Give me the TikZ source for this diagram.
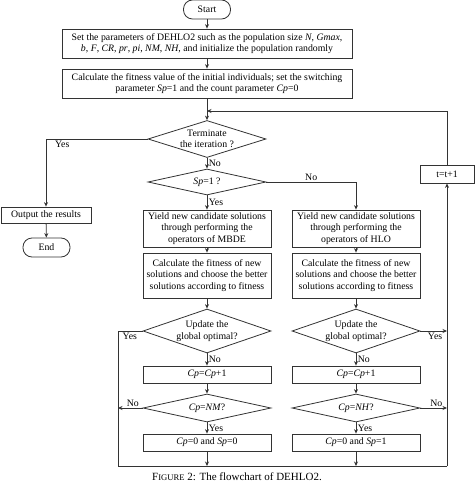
\documentclass[tikz,border=0pt]{standalone}
\usepackage{fontspec}
\setmainfont{Liberation Serif}
\usetikzlibrary{shapes.geometric, arrows.meta}

\begin{document}
\begin{tikzpicture}[
    x=1pt, y=-1pt,
    font=\fontsize{9.8}{11.6}\selectfont,
    box/.style={rectangle, draw=black!80, line width=0.8pt, inner sep=1pt, align=center},
    terminal/.style={rectangle, rounded corners=9pt, draw=black!80, line width=0.8pt, minimum width=47pt, minimum height=19pt, inner sep=1pt},
    decision/.style={diamond, draw=black!80, line width=0.8pt, inner sep=-4pt, aspect=3.3, align=center},
    arrow/.style={-{Stealth[length=4.5pt, width=4pt]}, draw=black!80, line width=0.8pt},
    link/.style={draw=black!80, line width=0.8pt},
    lbl/.style={inner sep=1.5pt}
]
    \useasboundingbox (0,0) rectangle (474,484);

    \node[terminal] (start) at (207,9.5) {Start};
    \node[box, minimum width=290pt, minimum height=29pt] (param) at (207,43.5)
        {Set the parameters of DEHLO2 such as the population size \textit{N}, \textit{Gmax},\\
         \textit{b}, \textit{F}, \textit{CR}, \textit{pr}, \textit{pi}, \textit{NM}, \textit{NH}, and initialize the population randomly};
    \node[box, minimum width=290pt, minimum height=29pt] (init) at (207,83.5)
        {Calculate the fitness value of the initial individuals; set the switching\\
         parameter \textit{Sp}=1 and the count parameter \textit{Cp}=0};
    \node[decision, minimum width=118pt, minimum height=37pt] (term) at (207,139) {Terminate\\the iteration ?};
    \node[decision, minimum width=118pt, minimum height=26pt] (sp) at (207,182) {\textit{Sp}=1 ?};

    % left branch: MBDE
    \node[box, minimum width=128pt, minimum height=37pt] (mbde) at (207,228.5)
        {Yield new candidate solutions\\through performing the\\operators of MBDE};
    \node[box, minimum width=128pt, minimum height=45pt] (fitm) at (207,275.5)
        {Calculate the fitness of new\\solutions and choose the better\\solutions according to fitness};
    \node[decision, minimum width=128pt, minimum height=44pt] (updm) at (207,331) {Update the\\global optimal?};
    \node[box, minimum width=128pt, minimum height=17pt] (cpm) at (207,374.5) {\textit{Cp}=\textit{Cp}+1};
    \node[decision, minimum width=128pt, minimum height=28pt] (nm) at (207,408) {\textit{Cp}=\textit{NM}?};
    \node[box, minimum width=128pt, minimum height=17pt] (rstm) at (207,442.5) {\textit{Cp}=0 and \textit{Sp}=0};

    % right branch: HLO
    \node[box, minimum width=128pt, minimum height=37pt] (hlo) at (356,228.5)
        {Yield new candidate solutions\\through performing the\\operators of HLO};
    \node[box, minimum width=128pt, minimum height=45pt] (fith) at (356,275.5)
        {Calculate the fitness of new\\solutions and choose the better\\solutions according to fitness};
    \node[decision, minimum width=128pt, minimum height=44pt] (updh) at (356,331) {Update the\\global optimal?};
    \node[box, minimum width=128pt, minimum height=17pt] (cph) at (356,374.5) {\textit{Cp}=\textit{Cp}+1};
    \node[decision, minimum width=128pt, minimum height=28pt] (nh) at (356,408) {\textit{Cp}=\textit{NH}?};
    \node[box, minimum width=128pt, minimum height=17pt] (rsth) at (356,442.5) {\textit{Cp}=0 and \textit{Sp}=1};

    \node[box, minimum width=54pt, minimum height=18pt] (tinc) at (447,174) {t=t+1};
    \node[box, minimum width=90pt, minimum height=16pt] (out) at (46,215) {Output the results};
    \node[terminal] (stop) at (46.5,247.5) {End};

    \node[font=\fontsize{11}{13}\selectfont] (caption) at (237,477) {F{\fontsize{8.6}{10}\selectfont IGURE} 2: The flowchart of DEHLO2.};

    \coordinate (join) at (207,111);
    \coordinate (bl) at (118,466);
    \coordinate (br) at (447,466);

    % main line
    \draw[arrow] (start) -- (param);
    \draw[arrow] (param) -- (init);
    \draw[arrow] (init) -- (term);
    \draw[arrow] (term) -- (sp) node[lbl, midway, right] {No};
    \draw[arrow] (term.west) -| (out.north) node[lbl, pos=0.42, below] {Yes};
    \draw[arrow] (out) -- (stop);
    \draw[arrow] (sp) -- (mbde) node[lbl, midway, right] {Yes};
    \draw[arrow] (sp.east) -| (hlo.north) node[lbl, pos=0.25, above] {No};

    \draw[arrow] (mbde) -- (fitm);
    \draw[arrow] (fitm) -- (updm);
    \draw[arrow] (updm) -- (cpm) node[lbl, midway, right] {No};
    \draw[arrow] (cpm) -- (nm);
    \draw[arrow] (nm) -- (rstm) node[lbl, midway, right] {Yes};
    \draw[arrow] (rstm) -- (rstm |- bl);

    \draw[arrow] (hlo) -- (fith);
    \draw[arrow] (fith) -- (updh);
    \draw[arrow] (updh) -- (cph) node[lbl, midway, right] {No};
    \draw[arrow] (cph) -- (nh);
    \draw[arrow] (nh) -- (rsth) node[lbl, midway, right] {Yes};
    \draw[arrow] (rsth) -- (rsth |- bl);

    % loop back
    \draw[link] (updm.west) -| (bl) node[lbl, pos=0.26, below] {Yes};
    \draw[arrow] (nm.west) -- (nm.west -| bl) node[lbl, pos=0.4, above] {No};
    \draw[link] (bl) -- (br);
    \draw[arrow] (br) -- (tinc);
    \draw[arrow] (updh.east) -- (updh.east -| br) node[lbl, pos=0.55, below] {Yes};
    \draw[arrow] (nh.east) -- (nh.east -| br) node[lbl, pos=0.6, above] {No};
    \draw[arrow] (tinc) |- (join);
\end{tikzpicture}
\end{document}
